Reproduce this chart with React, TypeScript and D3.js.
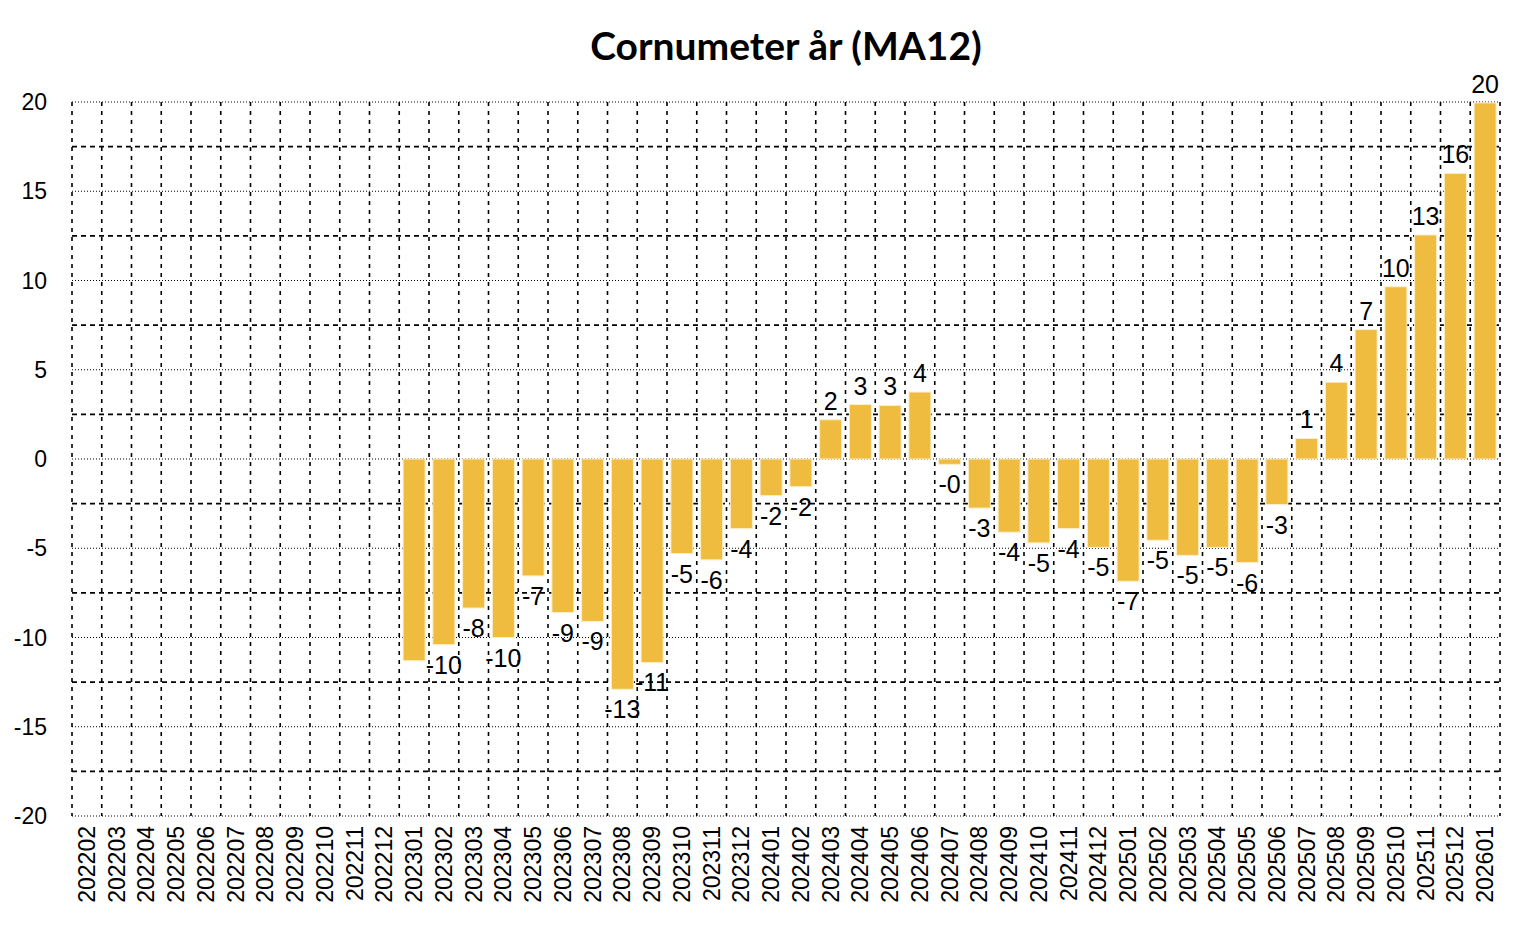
import React, { useEffect, useRef } from 'react';
import * as d3 from 'd3';

// months on the x axis
const months = [
  '202202', '202203', '202204', '202205', '202206', '202207', '202208', '202209', '202210', '202211', '202212',
  '202301', '202302', '202303', '202304', '202305', '202306', '202307', '202308', '202309', '202310', '202311', '202312',
  '202401', '202402', '202403', '202404', '202405', '202406', '202407', '202408', '202409', '202410', '202411', '202412',
  '202501', '202502', '202503', '202504', '202505', '202506', '202507', '202508', '202509', '202510', '202511', '202512',
  '202601',
];

// MA12 values, null where there is no bar
const values: (number | null)[] = [
  null, null, null, null, null, null, null, null, null, null, null,
  -11.3, -10.4, -8.35, -10.0, -6.55, -8.6, -9.1, -12.9, -11.4, -5.3, -5.65, -3.9,
  -2.05, -1.55, 2.2, 3.05, 3.0, 3.75, -0.3, -2.75, -4.1, -4.7, -3.9, -4.95,
  -6.85, -4.55, -5.4, -4.95, -5.8, -2.55, 1.15, 4.3, 7.25, 9.65, 12.55, 16.0,
  19.95,
];

// labels the original hides (they collide)
const hiddenLabels = ['202301'];

const yTicks = [20, 15, 10, 5, 0, -5, -10, -15, -20];
const yMinor = [17.5, 12.5, 7.5, 2.5, -2.5, -7.5, -12.5, -17.5];

export default function App() {
  const ref = useRef<SVGSVGElement>(null);

  useEffect(() => {
    const width = 1536, height = 925;
    const margin = { top: 102, right: 36, bottom: 109, left: 72 };

    const svg = d3.select(ref.current)
      .attr('width', width)
      .attr('height', height);
    svg.selectAll('*').remove();

    const x = d3.scaleBand<string>()
      .domain(months)
      .range([margin.left, width - margin.right])
      .paddingInner(0.26)
      .paddingOuter(0.13);

    const y = d3.scaleLinear()
      .domain([-20, 20])
      .range([height - margin.bottom, margin.top]);

    const x0 = margin.left, x1 = width - margin.right;
    const step = x.step();

    // title
    svg.append('text')
      .attr('x', (x0 + x1) / 2)
      .attr('y', 60)
      .attr('text-anchor', 'middle')
      .style('font', 'bold 39px Lato, "Open Sans", sans-serif')
      .attr('fill', '#000')
      .text('Cornumeter år (MA12)');

    const grid = svg.append('g');

    // minor horizontal lines, dashed
    grid.selectAll('line.minor')
      .data(yMinor)
      .enter()
      .append('line')
      .attr('class', 'minor')
      .attr('x1', x0).attr('x2', x1)
      .attr('y1', (d) => y(d)).attr('y2', (d) => y(d))
      .attr('stroke', '#000')
      .attr('stroke-width', 1.6)
      .attr('stroke-dasharray', '5,4');

    // vertical lines at category edges
    const edges = d3.range(months.length + 1).map((i) => x0 + i * step);
    grid.selectAll('line.v')
      .data(edges)
      .enter()
      .append('line')
      .attr('class', 'v')
      .attr('x1', (d) => d).attr('x2', (d) => d)
      .attr('y1', y(20)).attr('y2', y(-20))
      .attr('stroke', '#000')
      .attr('stroke-width', 1.6)
      .attr('stroke-dasharray', '4,5');

    // major horizontal lines, dotted
    grid.selectAll('line.major')
      .data(yTicks)
      .enter()
      .append('line')
      .attr('class', 'major')
      .attr('x1', x0).attr('x2', x1)
      .attr('y1', (d) => y(d)).attr('y2', (d) => y(d))
      .attr('stroke', '#000')
      .attr('stroke-width', 1)
      .attr('stroke-dasharray', '1,2');

    // y tick labels
    svg.selectAll('text.ytick')
      .data(yTicks)
      .enter()
      .append('text')
      .attr('class', 'ytick')
      .attr('x', 47)
      .attr('y', (d) => y(d))
      .attr('dy', '0.35em')
      .attr('text-anchor', 'end')
      .style('font', '23px "Liberation Sans", Arial, sans-serif')
      .text((d) => d);

    // x tick labels, rotated
    svg.selectAll('text.xtick')
      .data(months)
      .enter()
      .append('text')
      .attr('class', 'xtick')
      .attr('transform', (d) => `translate(${x(d)! + x.bandwidth() / 2},${y(-20) + 10}) rotate(-90)`)
      .attr('dy', '0.35em')
      .attr('text-anchor', 'end')
      .style('font', '23px "Liberation Sans", Arial, sans-serif')
      .text((d) => d);

    const data = months
      .map((m, i) => ({ m, v: values[i] }))
      .filter((d) => d.v !== null) as { m: string; v: number }[];

    // bars
    svg.selectAll('rect.bar')
      .data(data)
      .enter()
      .append('rect')
      .attr('class', 'bar')
      .attr('x', (d) => x(d.m)!)
      .attr('width', x.bandwidth())
      .attr('y', (d) => y(Math.max(0, d.v)))
      .attr('height', (d) => Math.abs(y(d.v) - y(0)))
      .attr('fill', '#EFBC40')
      .attr('stroke', '#fbeec8')
      .attr('stroke-width', 1);

    const fmt = (v: number) => (v < 0 ? '-' + Math.round(-v) : String(Math.round(v)));

    // value labels
    svg.selectAll('text.val')
      .data(data.filter((d) => hiddenLabels.indexOf(d.m) < 0))
      .enter()
      .append('text')
      .attr('class', 'val')
      .attr('x', (d) => x(d.m)! + x.bandwidth() / 2)
      .attr('y', (d) => (d.v >= 0 ? y(d.v) - 10 : y(d.v) + 29))
      .attr('text-anchor', 'middle')
      .style('font', '25px "Liberation Sans", Arial, sans-serif')
      .attr('fill', '#000')
      .text((d) => fmt(d.v));
  }, []);

  return (
    <div style={{ position: 'absolute', left: 0, top: 0, background: '#fff' }}>
      <svg ref={ref}></svg>
    </div>
  );
}
